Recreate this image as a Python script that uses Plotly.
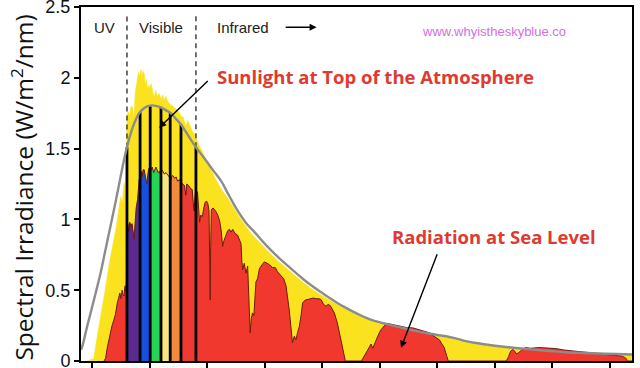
import numpy as np
import plotly.graph_objects as go

# ---------------- data ----------------
# smooth reference curve (grey line)
wl_ref = [200, 205, 227, 256, 285, 307, 328, 350, 372, 394, 408, 425, 440, 453, 470, 490,
          510, 530, 550, 570, 591, 613, 635, 667, 700, 735, 771, 810, 845, 880, 918, 955,
          990, 1025, 1062, 1100, 1135, 1170, 1207, 1245, 1280, 1315, 1353, 1390, 1425, 1460,
          1498, 1535, 1570, 1605, 1643, 1680, 1715, 1750, 1788, 1830, 1875, 1920, 1970, 2020,
          2090, 2165, 2240, 2310, 2380, 2455, 2530, 2600]
irr_ref = [0.08, 0.10, 0.245, 0.43, 0.62, 0.79, 0.95, 1.12, 1.30, 1.47, 1.56, 1.65, 1.71, 1.75,
           1.78, 1.80, 1.805, 1.80, 1.79, 1.77, 1.75, 1.71, 1.67, 1.59, 1.51, 1.435, 1.355,
           1.27, 1.165, 1.065, 0.975, 0.91, 0.845, 0.785, 0.727, 0.672, 0.622, 0.574, 0.528,
           0.485, 0.446, 0.41, 0.375, 0.343, 0.316, 0.293, 0.274, 0.259, 0.245, 0.231, 0.217,
           0.205, 0.194, 0.184, 0.175, 0.160, 0.140, 0.127, 0.115, 0.104, 0.092, 0.081, 0.071,
           0.062, 0.057, 0.053, 0.049, 0.046]

# sunlight at top of the atmosphere (yellow)
wl_toa = [230, 256, 265, 278, 290, 300, 310, 321, 330, 343, 350, 358, 365, 372, 380, 387, 393,
          397, 400, 405, 412, 418, 424, 430, 436, 441, 446, 450, 455, 461, 465, 470, 475, 480,
          485, 489, 495, 500, 505, 511, 518, 525, 532, 540, 548, 555, 562, 569, 578, 590, 600,
          613, 625, 635, 645, 656, 665, 675, 685, 695, 705, 714, 725, 735, 744, 755, 765, 775,
          787, 800, 815, 830, 845, 860, 880, 900, 918, 940, 961, 990, 1020, 1062, 1100, 1135,
          1170, 1207, 1240, 1280, 1320, 1353, 1390, 1425, 1460, 1498, 1535, 1570, 1605, 1643,
          1680, 1715, 1750, 1788, 1830, 1875, 1920, 1970, 2020, 2090, 2165, 2240, 2310, 2380,
          2455, 2530, 2600]
irr_toa = [0.0, 0.02, 0.12, 0.245, 0.33, 0.43, 0.55, 0.67, 0.74, 0.86, 0.92, 1.00, 1.09, 1.16,
           1.12, 1.26, 1.20, 1.35, 1.72, 1.76, 1.74, 1.80, 1.79, 1.72, 1.90, 1.95, 1.99, 2.04,
           2.02, 2.06, 2.01, 2.05, 2.03, 1.96, 1.99, 1.92, 1.95, 1.93, 1.96, 1.90, 1.86, 1.91,
           1.87, 1.89, 1.85, 1.88, 1.84, 1.87, 1.83, 1.81, 1.80, 1.78, 1.76, 1.73, 1.72, 1.66,
           1.70, 1.66, 1.62, 1.60, 1.56, 1.52, 1.49, 1.45, 1.42, 1.39, 1.36, 1.32, 1.28, 1.24,
           1.20, 1.17, 1.13, 1.09, 1.04, 0.99, 0.95, 0.90, 0.865, 0.815, 0.765, 0.70, 0.645,
           0.595, 0.55, 0.505, 0.47, 0.43, 0.395, 0.365, 0.335, 0.31, 0.29, 0.27, 0.255, 0.24,
           0.228, 0.214, 0.202, 0.19, 0.18, 0.17, 0.155, 0.138, 0.126, 0.115, 0.102, 0.09,
           0.079, 0.07, 0.062, 0.057, 0.052, 0.048, 0.045]

# radiation at sea level (red)
wl_sea = [300, 307, 315, 322, 328, 335, 343, 350, 358, 363, 369, 374, 379, 383, 387, 391, 394,
          397, 400, 404, 408, 412, 417, 422, 427, 431, 435, 440, 446, 450, 453, 458, 462, 466,
          470, 475, 480, 486, 490, 495, 500, 505, 510, 516, 520, 526, 531, 536, 541, 546, 552,
          557, 563, 570, 577, 584, 589, 593, 600, 607, 614, 620, 628, 635, 642, 650, 656, 660,
          668, 675, 684, 688, 692, 697, 703, 707, 712, 716, 721, 728, 734, 740, 746, 752, 757,
          759, 762, 764, 767, 775, 785, 795, 803, 810, 816, 822, 830, 838, 846, 853, 860, 870,
          881, 890, 896, 900, 903, 910, 915, 918, 925, 930, 932, 936, 941, 946, 952, 956, 961,
          968, 976, 983, 997, 1010, 1020, 1033, 1045, 1055, 1070, 1082, 1092, 1100, 1106, 1113,
          1120, 1128, 1135, 1142, 1150, 1158, 1164, 1175, 1186, 1200, 1212, 1222, 1235, 1244,
          1255, 1266, 1275, 1285, 1302, 1315, 1324, 1335, 1345, 1350, 1420, 1430, 1440, 1454,
          1462, 1469, 1476, 1483, 1495, 1505, 1520, 1534, 1550, 1570, 1600, 1620, 1643, 1680,
          1715, 1740, 1759, 1770, 1780, 1790, 1798, 2050, 2060, 2069, 2077, 2084, 2095, 2105,
          2115, 2134, 2156, 2192, 2230, 2265, 2300, 2337, 2370, 2410, 2450, 2481, 2520, 2555,
          2570, 2578, 2600]
irr_sea = [0.0, 0.02, 0.10, 0.16, 0.20, 0.25, 0.29, 0.33, 0.41, 0.44, 0.48, 0.44, 0.50, 0.47,
           0.46, 0.53, 0.53, 0.49, 0.93, 0.97, 0.91, 0.98, 0.95, 0.97, 0.92, 0.86, 0.97, 1.08,
           1.14, 1.22, 1.28, 1.31, 1.34, 1.30, 1.35, 1.35, 1.31, 1.25, 1.31, 1.36, 1.33, 1.35,
           1.37, 1.33, 1.35, 1.37, 1.35, 1.33, 1.34, 1.32, 1.35, 1.33, 1.32, 1.33, 1.31, 1.30,
           1.26, 1.30, 1.31, 1.29, 1.30, 1.27, 1.28, 1.26, 1.25, 1.24, 1.17, 1.25, 1.24, 1.22,
           1.21, 1.12, 1.06, 1.18, 1.20, 1.19, 1.05, 0.98, 1.03, 1.02, 1.08, 1.12, 1.13, 1.11,
           1.06, 0.45, 0.43, 0.80, 1.07, 1.08, 1.06, 1.03, 0.99, 0.92, 0.81, 0.85, 0.88, 0.92,
           0.93, 0.91, 0.93, 0.90, 0.89, 0.86, 0.83, 0.70, 0.645, 0.69, 0.64, 0.62, 0.67, 0.50,
           0.34, 0.20, 0.30, 0.34, 0.32, 0.40, 0.56, 0.58, 0.65, 0.67, 0.70, 0.69, 0.68, 0.66,
           0.66, 0.63, 0.60, 0.58, 0.53, 0.45, 0.36, 0.245, 0.13, 0.175, 0.15, 0.20, 0.245,
           0.33, 0.41, 0.43, 0.434, 0.44, 0.445, 0.44, 0.44, 0.434, 0.40, 0.387, 0.40, 0.39,
           0.34, 0.27, 0.20, 0.10, 0.03, 0.0, 0.0, 0.03, 0.06, 0.10, 0.12, 0.09, 0.12, 0.15,
           0.19, 0.22, 0.25, 0.265, 0.26, 0.25, 0.24, 0.235, 0.234, 0.215, 0.20, 0.17, 0.15,
           0.12, 0.095, 0.04, 0.0, 0.0, 0.03, 0.07, 0.08, 0.075, 0.05, 0.06, 0.075, 0.095, 0.09,
           0.095, 0.09, 0.088, 0.078, 0.07, 0.066, 0.06, 0.05, 0.046, 0.04, 0.034, 0.02, 0.0,
           0.0]

# visible colour bands
band_edges = [400, 457, 501, 548, 588, 635, 700]
band_colors = ["#5a2a8e", "#1a4ee0", "#25d455", "#f7e77c", "#f28a3c", "#ef3a32"]

# axes
x_range = [200, 2597]
y_range = [0, 2.5]
xtick_vals = [250, 500, 750, 1000, 1250, 1500, 1750, 2000, 2250, 2500]
ytick_vals = [0, 0.5, 1, 1.5, 2, 2.5]
ytick_text = ["0", "0.5", "1", "1.5", "2", "2.5"]

YELLOW = "#fbe21e"
RED = "#f0382f"
LABEL_RED = "#e03a30"

fig = go.Figure()

# top of atmosphere (yellow)
fig.add_trace(go.Scatter(x=wl_toa, y=irr_toa, mode="lines", fill="tozeroy",
                         fillcolor=YELLOW, line=dict(color=YELLOW, width=0.5),
                         hoverinfo="skip", showlegend=False))
# sea level (red)
fig.add_trace(go.Scatter(x=wl_sea, y=irr_sea, mode="lines", fill="tozeroy",
                         fillcolor=RED, line=dict(width=0),
                         hoverinfo="skip", showlegend=False))
# colour bands under the sea level curve
for lo, hi, col in zip(band_edges[:-1], band_edges[1:], band_colors):
    xs = [lo] + [w for w in wl_sea if lo < w < hi] + [hi]
    ys = np.interp(xs, wl_sea, irr_sea)
    fig.add_trace(go.Scatter(x=xs, y=ys, mode="lines", fill="tozeroy", fillcolor=col,
                             line=dict(width=0), hoverinfo="skip", showlegend=False))
# dark outline of the sea level curve
fig.add_trace(go.Scatter(x=wl_sea, y=irr_sea, mode="lines",
                         line=dict(color="#6e1a12", width=1),
                         hoverinfo="skip", showlegend=False))

# black separators of the bands, up to the grey curve
sx, sy = [], []
for b in band_edges:
    sx += [b, b, None]
    sy += [0, float(np.interp(b, wl_ref, irr_ref)), None]
fig.add_trace(go.Scatter(x=sx, y=sy, mode="lines", line=dict(color="black", width=2.8),
                         hoverinfo="skip", showlegend=False))

# dashed UV / visible / IR limits
dx, dy = [], []
for b in (band_edges[0], band_edges[-1]):
    dx += [b, b, None]
    dy += [float(np.interp(b, wl_ref, irr_ref)), 2.46, None]
fig.add_trace(go.Scatter(x=dx, y=dy, mode="lines",
                         line=dict(color="#333333", width=1.4, dash="5px,4px"),
                         hoverinfo="skip", showlegend=False))

# grey reference curve
fig.add_trace(go.Scatter(x=wl_ref, y=irr_ref, mode="lines",
                         line=dict(color="#8c8c8c", width=2.4, shape="spline"),
                         hoverinfo="skip", showlegend=False))

small = dict(family="Liberation Sans, Arial, sans-serif", size=15, color="#222222")
bold = dict(family="Open Sans, sans-serif", size=18.5, color=LABEL_RED)

fig.add_annotation(x=301, y=2.357, text="UV", showarrow=False, font=small)
fig.add_annotation(x=548, y=2.357, text="Visible", showarrow=False, font=small)
fig.add_annotation(x=903, y=2.357, text="Infrared", showarrow=False, font=small)
fig.add_annotation(x=1225, y=2.357, ax=1084, ay=2.357, axref="x", ayref="y", text="",
                   showarrow=True, arrowhead=2, arrowsize=1, arrowwidth=1.4,
                   arrowcolor="black")

fig.add_annotation(x=1998, y=2.33, text="www.whyistheskyblue.co", showarrow=False,
                   font=dict(family="Liberation Sans, Arial, sans-serif", size=13,
                             color="#d36ee3"))

fig.add_annotation(x=1480, y=2.008, text="<b>Sunlight at Top of the Atmosphere</b>",
                   showarrow=False, font=bold)
fig.add_annotation(x=540, y=1.648, ax=758, ay=1.987, axref="x", ayref="y", text="",
                   showarrow=True, arrowhead=2, arrowsize=1, arrowwidth=1.4,
                   arrowcolor="black")

fig.add_annotation(x=1995, y=0.876, text="<b>Radiation at Sea Level</b>",
                   showarrow=False, font=bold)
fig.add_annotation(x=1592, y=0.093, ax=1752, ay=0.764, axref="x", ayref="y", text="",
                   showarrow=True, arrowhead=2, arrowsize=1, arrowwidth=1.4,
                   arrowcolor="black")

# y axis title
fig.add_annotation(xref="paper", yref="paper", x=-0.107, y=0.49, xanchor="center",
                   yanchor="middle", textangle=-90, showarrow=False,
                   text="Spectral Irradiance (W/m<sup>2</sup>/nm)",
                   font=dict(family="Open Sans, sans-serif", size=24.5, color="#111111"))

fig.update_layout(
    width=640, height=368,
    margin=dict(l=81, r=8, t=7, b=7, autoexpand=False),
    paper_bgcolor="white", plot_bgcolor="white",
    showlegend=False,
)
fig.update_xaxes(range=x_range, showgrid=False, zeroline=False, showline=True,
                 linecolor="black", linewidth=2, mirror=True,
                 tickmode="array", tickvals=xtick_vals, ticks="outside", ticklen=5,
                 tickwidth=1.5, tickcolor="black", showticklabels=False)
fig.update_yaxes(range=y_range, showgrid=False, zeroline=False, showline=True,
                 linecolor="black", linewidth=2, mirror=True,
                 tickmode="array", tickvals=ytick_vals, ticktext=ytick_text,
                 ticks="outside", ticklen=5, tickwidth=1.5, tickcolor="black",
                 ticklabeloverflow="allow",
                 tickfont=dict(family="Liberation Sans, Arial, sans-serif", size=18,
                               color="#111111"))

fig.write_html("out.html", config={"displayModeBar": False},
               post_script="document.body.style.margin='0';")
